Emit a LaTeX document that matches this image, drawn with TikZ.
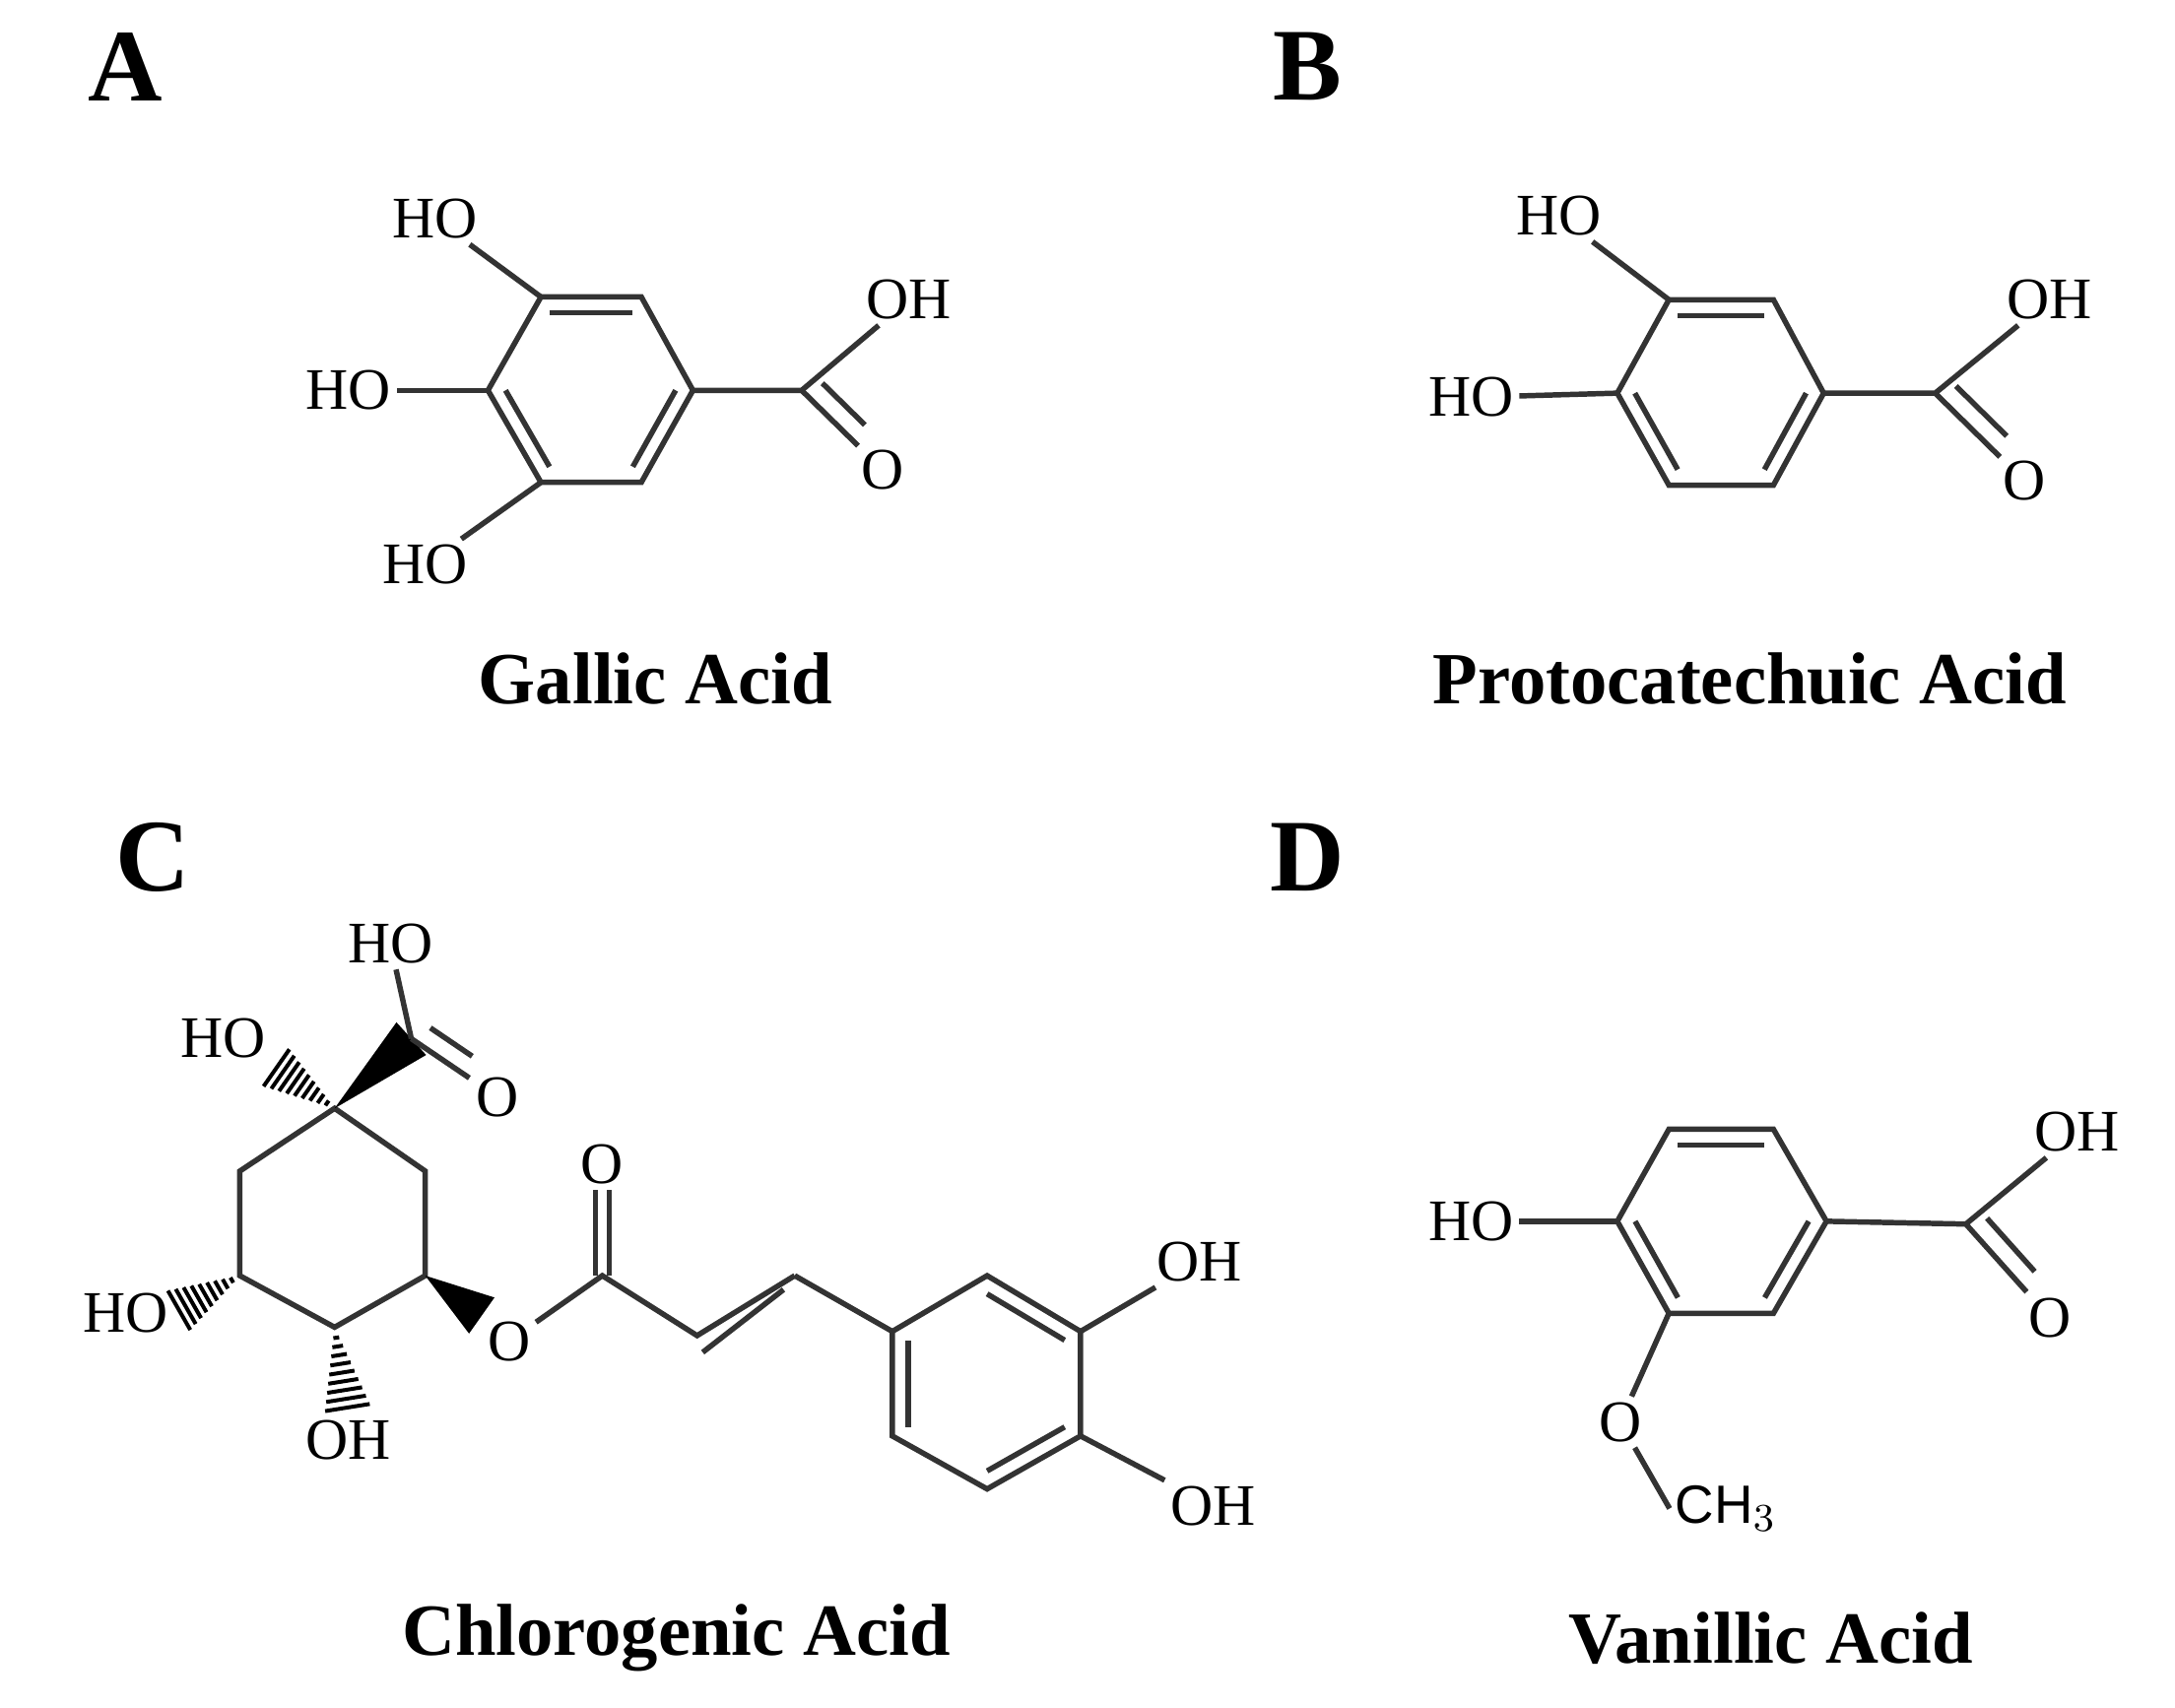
\documentclass[tikz,border=0pt]{standalone}
\usepackage{fontspec}
\setmainfont{Liberation Serif}
\usetikzlibrary{calc}
\tikzset{atom/.style={inner sep=1pt,font=\fontsize{12}{12}\selectfont},
  bond/.style={line width=1.1pt,black!80},
  panel/.style={font=\bfseries\fontsize{21}{21}\selectfont},
  title/.style={font=\bfseries\fontsize{15}{15}\selectfont}}
\newcommand{\inner}[3]{\draw[bond] ($(#1)!0.17!(#3)$) -- ($(#2)!0.17!(#3)$);}
\newcommand{\hashb}[2]{\foreach \t in {0.12,0.22,...,1.0}{
  \pgfmathsetmacro{\w}{\t*5}
  \draw[line width=0.8pt] ($(#1)!\t!(#2)!\w pt!90:(#2)$) -- ($(#1)!\t!(#2)!\w pt!-90:(#2)$);}}
\newcommand{\wedgeb}[2]{\fill ($(#1)$) -- ($(#2)!4.5pt!90:(#1)$) -- ($(#2)!4.5pt!-90:(#1)$) -- cycle;}
\newcommand{\dblo}[2]{\draw[bond,shorten >=7pt] (#1) -- (#2.center);
  \draw[bond,shorten >=9pt,shorten <=2pt] ($(#1)!4pt!90:(#2.center)$) -- ($(#2.center)!4pt!-90:(#1)$);}
\begin{document}
\begin{tikzpicture}[x=0.01cm,y=-0.01cm]
\useasboundingbox (0,0) rectangle (1560,1225);
% panel letters and names
\node[panel] (pA) at (90,48) {A};
\node[panel] (pB) at (938,48) {B};
\node[panel] (pC) at (110,615) {C};
\node[panel] (pD) at (938,615) {D};
\node[title] (tA) at (470,487) {Gallic Acid};
\node[title] (tB) at (1255,487) {Protocatechuic Acid};
\node[title] (tC) at (485,1175) {Chlorogenic Acid};
\node[title] (tD) at (1270,1175) {Vanillic Acid};
% gallic acid
\coordinate (a1) at (350,280); \coordinate (a2) at (388,213); \coordinate (a3) at (460,213);
\coordinate (a4) at (497,280); \coordinate (a5) at (460,346); \coordinate (a6) at (388,346);
\coordinate (ac) at (424,280); \coordinate (aC) at (575,280);
\draw[bond] (a1) -- (a2) -- (a3) -- (a4) -- (a5) -- (a6) -- cycle;
\inner{a2}{a3}{ac} \inner{a1}{a6}{ac} \inner{a4}{a5}{ac}
\node[atom] (aHO1) at (312,157) {HO};
\node[atom] (aHO2) at (250,280) {HO};
\node[atom] (aHO3) at (305,405) {HO};
\node[atom] (aOH) at (652,215) {OH};
\node[atom] (aO) at (633,337) {O};
\draw[bond] (a2) -- (aHO1); \draw[bond] (a1) -- (aHO2); \draw[bond] (a6) -- (aHO3);
\draw[bond] (a4) -- (aC) -- (aOH);
\dblo{aC}{aO}
% protocatechuic acid
\coordinate (b1) at (1160,282); \coordinate (b2) at (1197,215); \coordinate (b3) at (1272,215);
\coordinate (b4) at (1308,282); \coordinate (b5) at (1272,348); \coordinate (b6) at (1197,348);
\coordinate (bc) at (1234,282); \coordinate (bC) at (1388,282);
\draw[bond] (b1) -- (b2) -- (b3) -- (b4) -- (b5) -- (b6) -- cycle;
\inner{b2}{b3}{bc} \inner{b1}{b6}{bc} \inner{b4}{b5}{bc}
\node[atom] (bHO1) at (1118,155) {HO};
\node[atom] (bHO2) at (1055,285) {HO};
\node[atom] (bOH) at (1470,215) {OH};
\node[atom] (bO) at (1452,345) {O};
\draw[bond] (b2) -- (bHO1); \draw[bond] (b1) -- (bHO2);
\draw[bond] (b4) -- (bC) -- (bOH);
\dblo{bC}{bO}
% vanillic acid
\coordinate (d1) at (1160,876); \coordinate (d2) at (1197,810); \coordinate (d3) at (1272,810);
\coordinate (d4) at (1310,876); \coordinate (d5) at (1272,942); \coordinate (d6) at (1197,942);
\coordinate (dc) at (1235,876); \coordinate (dC) at (1410,878);
\draw[bond] (d1) -- (d2) -- (d3) -- (d4) -- (d5) -- (d6) -- cycle;
\inner{d2}{d3}{dc} \inner{d1}{d6}{dc} \inner{d4}{d5}{dc}
\node[atom] (dHO) at (1055,876) {HO};
\node[atom] (dOH) at (1490,812) {OH};
\node[atom] (dO) at (1470,945) {O};
\node[atom] (dOm) at (1162,1020) {O};
\node[atom,font=\fontspec{Liberation Sans}\fontsize{11}{11}\selectfont] (dCH) at (1238,1082) {CH$_3$};
\draw[bond] (d1) -- (dHO); \draw[bond] (d4) -- (dC) -- (dOH);
\dblo{dC}{dO}
\draw[bond] (d6) -- (dOm); \draw[bond] (dOm) -- (dCH.west);
% chlorogenic acid: quinic part
\coordinate (c1) at (240,795); \coordinate (c2) at (305,840); \coordinate (c3) at (305,915);
\coordinate (c4) at (240,952); \coordinate (c5) at (172,915); \coordinate (c6) at (172,840);
\coordinate (cC) at (295,745);
\draw[bond] (c1) -- (c2) -- (c3) -- (c4) -- (c5) -- (c6) -- cycle;
\node[atom] (cHOa) at (280,677) {HO};
\node[atom] (cOa) at (357,787) {O};
\node[atom] (cHOb) at (160,745) {HO};
\node[atom] (cHOc) at (90,942) {HO};
\node[atom] (cOHd) at (250,1033) {OH};
\node[atom] (cOe) at (365,962) {O};
\wedgeb{c1}{cC}
\draw[bond] (cC) -- (cHOa);
\dblo{cC}{cOa}
\hashb{c1}{cHOb.south east} \hashb{c5}{cHOc.east} \hashb{c4}{cOHd.north}
\wedgeb{c3}{cOe.north west}
% chlorogenic acid: caffeoyl part
\coordinate (cE) at (432,915); \coordinate (cV1) at (500,958); \coordinate (cV2) at (570,915);
\node[atom] (cOf) at (432,835) {O};
\draw[bond] (cOe) -- (cE) -- (cV1) -- (cV2);
\draw[bond] ($(cE)+(-5,0)$) -- (cOf.south -| {$(cE)+(-5,0)$}); \draw[bond] ($(cE)+(5,0)$) -- (cOf.south -| {$(cE)+(5,0)$});
\draw[bond] ($(cV1)+(4,12)$) -- ($(cV2)+(-8,10)$);
\coordinate (r1) at (640,955); \coordinate (r2) at (708,915); \coordinate (r3) at (775,955);
\coordinate (r4) at (775,1030); \coordinate (r5) at (708,1068); \coordinate (r6) at (640,1030);
\coordinate (rc) at (708,992);
\draw[bond] (cV2) -- (r1);
\draw[bond] (r1) -- (r2) -- (r3) -- (r4) -- (r5) -- (r6) -- cycle;
\inner{r2}{r3}{rc} \inner{r4}{r5}{rc} \inner{r6}{r1}{rc}
\node[atom] (cOHg) at (860,905) {OH};
\node[atom] (cOHh) at (870,1080) {OH};
\draw[bond] (r3) -- (cOHg); \draw[bond] (r4) -- (cOHh);
\end{tikzpicture}
\end{document}
